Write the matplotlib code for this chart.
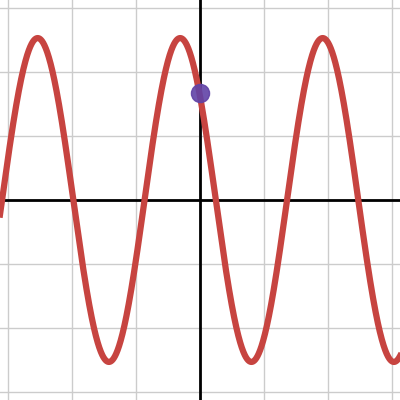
import numpy as np
import matplotlib
matplotlib.use("Agg")
import matplotlib.pyplot as plt

amplitude = 2.53
frequency = 2.822
peak_x = -0.31
point_x = [0.0]
point_y = [1.672]
grid_ticks = [-3, -2, -1, 0, 1, 2, 3]

fig = plt.figure(figsize=(4, 4), dpi=100)
ax = fig.add_axes([0, 0, 1, 1])
lim = 200 / 64
ax.set_xlim(-lim, lim)
ax.set_ylim(-lim, lim)
ax.set_xticks(grid_ticks)
ax.set_yticks(grid_ticks)
ax.grid(True, color="#cccccc", lw=1)
ax.tick_params(length=0, labelbottom=False, labelleft=False)
for s in ax.spines.values():
    s.set_visible(False)
ax.axhline(0, color="black", lw=2)
ax.axvline(0, color="black", lw=2)
x = np.linspace(-lim, lim, 2000)
ax.plot(x, amplitude * np.cos(frequency * (x - peak_x)), color="#c74440", lw=4.5)
ax.scatter(point_x, point_y, s=170, color="#6042a6", alpha=0.9, zorder=5)
fig.savefig("out.png")
